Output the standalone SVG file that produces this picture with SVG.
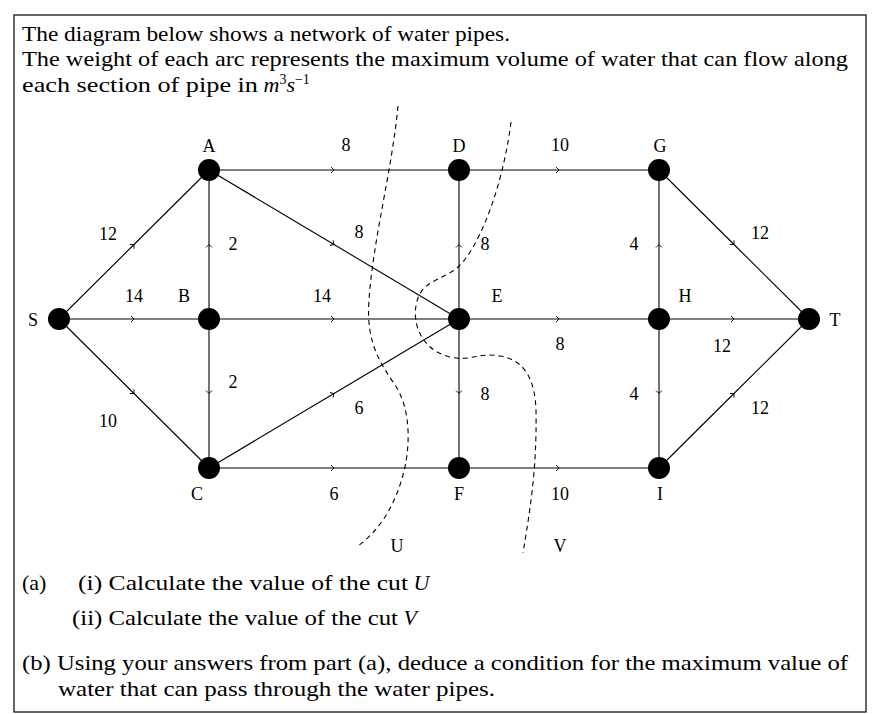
<svg xmlns="http://www.w3.org/2000/svg" width="881" height="714" viewBox="0 0 881 714">
<style>
text{font-family:"Liberation Serif","DejaVu Serif",serif;fill:#000}
.t{font-size:22px}
.l{font-size:18px;text-anchor:middle}
.e{stroke:#000;stroke-width:1.1;fill:none;marker-mid:url(#a)}
.d{stroke:#000;stroke-width:1.1;fill:none;stroke-dasharray:5 4}
</style>
<defs><marker id="a" viewBox="-4 -4 8 8" markerWidth="8" markerHeight="8" markerUnits="userSpaceOnUse" orient="auto"><path d="M-3,-3 L0,0 L-3,3" fill="none" stroke="#000" stroke-width="0.9"/></marker></defs>
<rect x="14" y="15" width="852" height="697" fill="#fff" stroke="#000" stroke-width="1.2"/>
<text class="t" x="22" y="41" textLength="488" lengthAdjust="spacingAndGlyphs">The diagram below shows a network of water pipes.</text>
<text class="t" x="22" y="66" textLength="826" lengthAdjust="spacingAndGlyphs">The weight of each arc represents the maximum volume of water that can flow along</text>
<text class="t" x="22" y="92"><tspan textLength="236" lengthAdjust="spacingAndGlyphs">each section of pipe in</tspan> <tspan font-style="italic">m</tspan><tspan font-size="14" dy="-8">3</tspan><tspan font-style="italic" dy="8">s</tspan><tspan font-size="14" dy="-8">−1</tspan></text>
<g id="connectors">
<path class="e" d="M59,319 L134,244.5 L209,170"/>
<path class="e" d="M59,319 L134,319 L209,319"/>
<path class="e" d="M59,319 L134,393.5 L209,468"/>
<path class="e" d="M209,170 L334,170 L459,170"/>
<path class="e" d="M209,319 L209,244.5 L209,170"/>
<path class="e" d="M209,319 L209,393.5 L209,468"/>
<path class="e" d="M209,170 L334,244.5 L459,319"/>
<path class="e" d="M209,319 L334,319 L459,319"/>
<path class="e" d="M209,468 L334,393.5 L459,319"/>
<path class="e" d="M209,468 L334,468 L459,468"/>
<path class="e" d="M459,319 L459,244.5 L459,170"/>
<path class="e" d="M459,319 L459,393.5 L459,468"/>
<path class="e" d="M459,170 L559,170 L659,170"/>
<path class="e" d="M459,319 L559,319 L659,319"/>
<path class="e" d="M459,468 L559,468 L659,468"/>
<path class="e" d="M659,319 L659,244.5 L659,170"/>
<path class="e" d="M659,319 L659,393.5 L659,468"/>
<path class="e" d="M659,170 L734,244.5 L809,319"/>
<path class="e" d="M659,319 L734,319 L809,319"/>
<path class="e" d="M659,468 L734,393.5 L809,319"/>
</g>
<g id="cuts">
<path class="d" d="M398,106 C392,170 373,240 369,300 C366,340 378,360 395,385 C412,410 410,450 403,475 C395,505 380,530 358,546"/>
<path class="d" d="M511,122 C505,170 488,230 463,262 C448,280 425,278 418,298 C410,320 420,350 450,357 C470,362 478,352 500,356 C525,360 535,380 536,410 C537,470 530,510 523,553"/>
</g>
<g id="nodes">
<g id="S"><circle cx="59" cy="319" r="11"/><text class="l" x="33" y="326">S</text></g>
<g id="A"><circle cx="209" cy="170" r="11"/><text class="l" x="209" y="152">A</text></g>
<g id="B"><circle cx="209" cy="319" r="11"/><text class="l" x="184" y="302">B</text></g>
<g id="C"><circle cx="209" cy="468" r="11"/><text class="l" x="197" y="500">C</text></g>
<g id="D"><circle cx="459" cy="170" r="11"/><text class="l" x="459" y="152">D</text></g>
<g id="E"><circle cx="459" cy="319" r="11"/><text class="l" x="497" y="302">E</text></g>
<g id="F"><circle cx="459" cy="468" r="11"/><text class="l" x="459" y="500">F</text></g>
<g id="G"><circle cx="659" cy="170" r="11"/><text class="l" x="660" y="152">G</text></g>
<g id="H"><circle cx="659" cy="319" r="11"/><text class="l" x="685" y="302">H</text></g>
<g id="I"><circle cx="659" cy="468" r="11"/><text class="l" x="660" y="500">I</text></g>
<g id="T"><circle cx="809" cy="319" r="11"/><text class="l" x="835" y="326">T</text></g>
</g>
<g id="weights">
<text class="l" x="108" y="240">12</text><text class="l" x="134" y="302">14</text><text class="l" x="108" y="427">10</text>
<text class="l" x="233" y="250">2</text><text class="l" x="233" y="388">2</text>
<text class="l" x="346" y="151">8</text><text class="l" x="560" y="151">10</text>
<text class="l" x="359" y="238">8</text><text class="l" x="485" y="250">8</text><text class="l" x="322" y="302">14</text>
<text class="l" x="634" y="250">4</text><text class="l" x="760" y="239">12</text>
<text class="l" x="560" y="350">8</text><text class="l" x="722" y="352">12</text>
<text class="l" x="359" y="414">6</text><text class="l" x="485" y="400">8</text><text class="l" x="634" y="400">4</text><text class="l" x="760" y="414">12</text>
<text class="l" x="334" y="500">6</text><text class="l" x="560" y="500">10</text>
<text class="l" x="397" y="552">U</text><text class="l" x="560" y="552">V</text>
</g>
<text class="t" x="22" y="590">(a)</text>
<text class="t" x="78" y="590"><tspan textLength="330" lengthAdjust="spacingAndGlyphs">(i)  Calculate the value of the cut</tspan> <tspan font-style="italic">U</tspan></text>
<text class="t" x="72" y="625"><tspan textLength="326" lengthAdjust="spacingAndGlyphs">(ii)  Calculate the value of the cut</tspan> <tspan font-style="italic">V</tspan></text>
<text class="t" x="22" y="670" textLength="826" lengthAdjust="spacingAndGlyphs">(b)  Using your answers from part (a), deduce a condition for the maximum value of</text>
<text class="t" x="58" y="696" textLength="437" lengthAdjust="spacingAndGlyphs">water that can pass through the water pipes.</text>
</svg>
